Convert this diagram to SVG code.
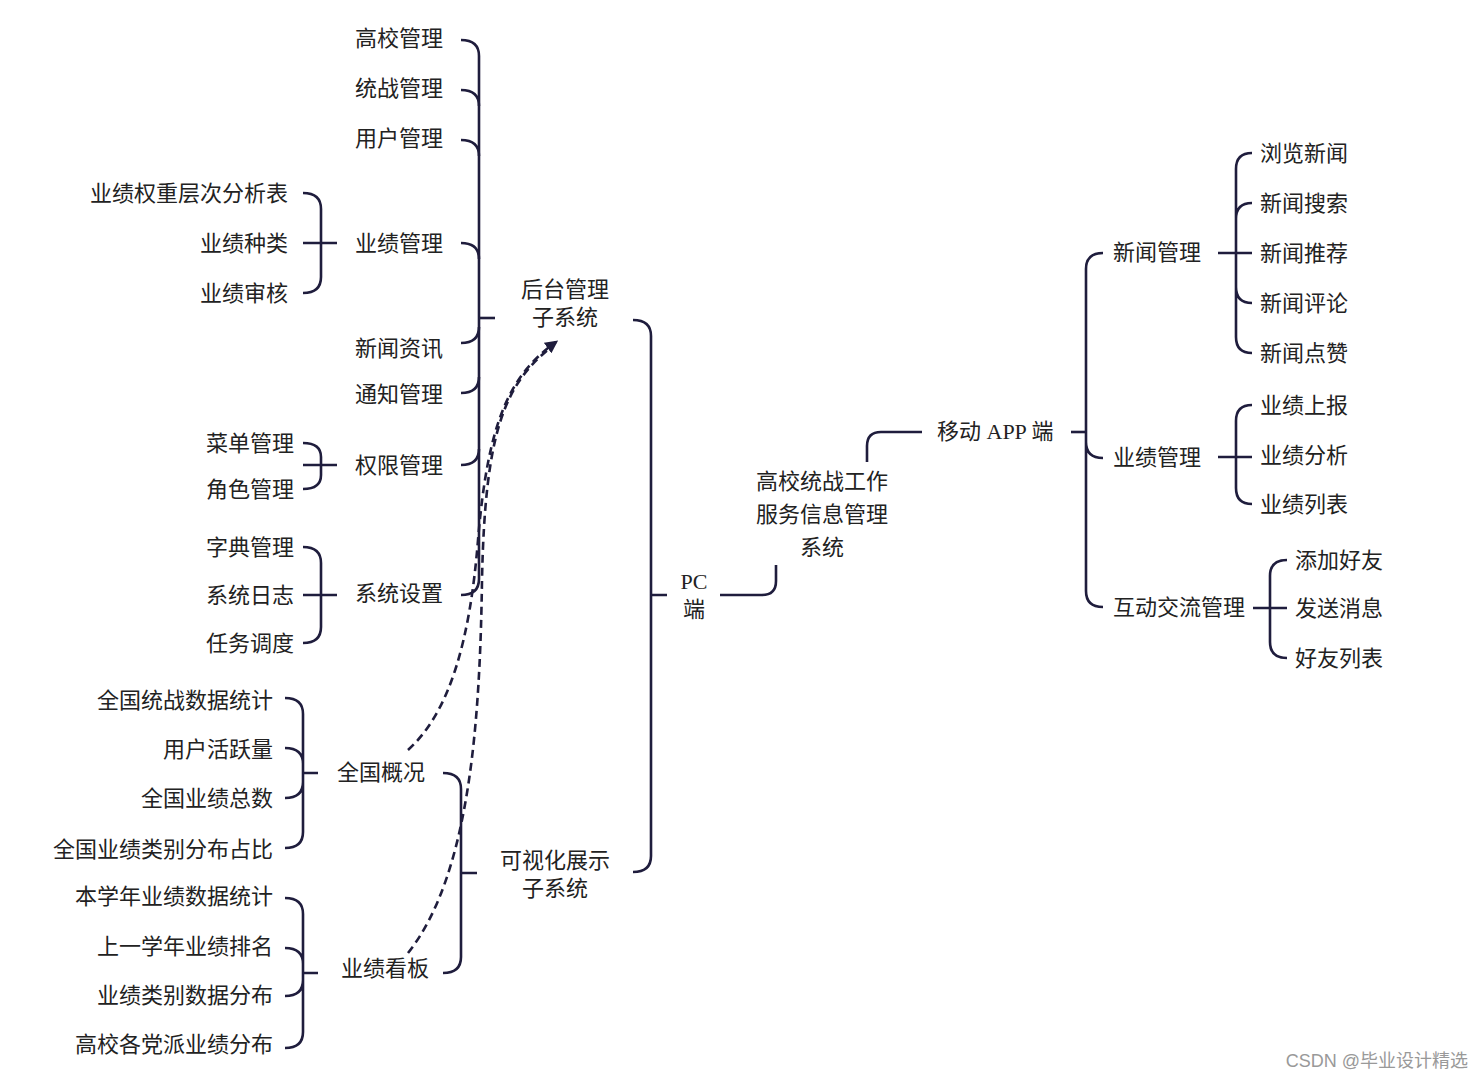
<svg xmlns="http://www.w3.org/2000/svg" width="1484" height="1080" viewBox="0 0 1484 1080">
<style>
text{font-family:"Liberation Serif","Noto Sans CJK SC",serif;font-size:22px;fill:#222;dominant-baseline:central}
.r{text-anchor:end}.m{text-anchor:middle}
.c path{fill:none;stroke:#1f1d3d;stroke-width:2.6}
.d{stroke-dasharray:8 5}
</style>
<defs><marker id="ah" viewBox="0 0 10 10" refX="8" refY="5" markerWidth="5" markerHeight="5" orient="auto"><path d="M0,0L10,5L0,10z" fill="#1f1d3d"/></marker></defs>
<rect width="1484" height="1080" fill="#fff"/>
<g class="c" id="connectors">
<path d="M461,40 Q479,40 479,56 L479,579 Q479,595 461,595"/>
<path d="M461,90 Q479,90 479,106"/><path d="M461,140 Q479,140 479,156"/><path d="M461,243 Q479,243 479,259"/>
<path d="M461,343 Q479,343 479,327"/><path d="M461,393 Q479,393 479,377"/><path d="M461,465 Q479,465 479,449"/>
<path d="M479,318 H495"/>
<path d="M303,193 Q321,193 321,209 L321,277 Q321,293 303,293 M303,243 H337"/>
<path d="M303,443 Q321,443 321,457 L321,475 Q321,489 303,489 M303,465 H337"/>
<path d="M303,547 Q321,547 321,563 L321,627 Q321,643 303,643 M303,595 H337"/>
<path d="M633,320 Q651,320 651,336 L651,856 Q651,872 633,872 M651,595 H667"/>
<path d="M720,595 H762 Q776,595 776,581 V565"/>
<path d="M867,462 V446 Q867,432 881,432 H922"/>
<path d="M1071,432 H1086"/>
<path d="M1103,253 Q1086,253 1086,269 L1086,591 Q1086,607 1103,607 M1086,442 Q1086,458 1103,458"/>
<path d="M1252,153 Q1236,153 1236,169 L1236,337 Q1236,353 1252,353 M1252,203 Q1236,203 1236,219 M1252,303 Q1236,303 1236,287 M1218,253 H1252"/>
<path d="M1252,405 Q1236,405 1236,421 L1236,488 Q1236,504 1252,504 M1218,457 H1252"/>
<path d="M1287,560 Q1270,560 1270,576 L1270,642 Q1270,658 1287,658 M1253,608 H1287"/>
<path d="M443,773 Q461,773 461,789 L461,957 Q461,973 443,973 M461,873 H477"/>
<path d="M285,698 Q303,698 303,714 L303,832 Q303,848 285,848 M285,748 Q303,748 303,764 M285,798 Q303,798 303,782 M303,773 H318"/>
<path d="M285,898 Q303,898 303,914 L303,1032 Q303,1048 285,1048 M285,948 Q303,948 303,964 M285,996 Q303,996 303,980 M303,973 H318"/>
<path class="d" d="M408,750 C450,712 470,640 478,540 C488,420 510,375 556,342" marker-end="url(#ah)"/>
<path class="d" d="M408,953 C470,875 480,720 482,580 C485,430 505,385 550,348"/>
</g>
<g id="n-top"><text class="r" x="443" y="38">高校管理</text></g>
<g id="n-tz"><text class="r" x="443" y="88">统战管理</text></g>
<g id="n-yh"><text class="r" x="443" y="138">用户管理</text></g>
<g id="n-yj"><text class="r" x="443" y="243">业绩管理</text></g>
<g id="n-xw"><text class="r" x="443" y="348">新闻资讯</text></g>
<g id="n-tzgl"><text class="r" x="443" y="394">通知管理</text></g>
<g id="n-qx"><text class="r" x="443" y="465">权限管理</text></g>
<g id="n-xt"><text class="r" x="443" y="593">系统设置</text></g>
<g id="n-yj1"><text class="r" x="288" y="193">业绩权重层次分析表</text></g>
<g id="n-yj2"><text class="r" x="288" y="243">业绩种类</text></g>
<g id="n-yj3"><text class="r" x="288" y="293">业绩审核</text></g>
<g id="n-qx1"><text class="r" x="294" y="443">菜单管理</text></g>
<g id="n-qx2"><text class="r" x="294" y="489">角色管理</text></g>
<g id="n-xt1"><text class="r" x="294" y="547">字典管理</text></g>
<g id="n-xt2"><text class="r" x="294" y="595">系统日志</text></g>
<g id="n-xt3"><text class="r" x="294" y="643">任务调度</text></g>
<g id="n-ht"><text class="m" x="565" y="289">后台管理</text><text class="m" x="565" y="317">子系统</text></g>
<g id="n-ks"><text class="m" x="555" y="860">可视化展示</text><text class="m" x="555" y="888">子系统</text></g>
<g id="n-qg"><text x="337" y="772">全国概况</text></g>
<g id="n-kb"><text x="341" y="968">业绩看板</text></g>
<g id="n-qg1"><text class="r" x="273" y="700">全国统战数据统计</text></g>
<g id="n-qg2"><text class="r" x="273" y="749">用户活跃量</text></g>
<g id="n-qg3"><text class="r" x="273" y="798">全国业绩总数</text></g>
<g id="n-qg4"><text class="r" x="273" y="849">全国业绩类别分布占比</text></g>
<g id="n-kb1"><text class="r" x="273" y="896">本学年业绩数据统计</text></g>
<g id="n-kb2"><text class="r" x="273" y="946">上一学年业绩排名</text></g>
<g id="n-kb3"><text class="r" x="273" y="995">业绩类别数据分布</text></g>
<g id="n-kb4"><text class="r" x="273" y="1044">高校各党派业绩分布</text></g>
<g id="n-pc"><text class="m" x="694" y="581">PC</text><text class="m" x="694" y="609">端</text></g>
<g id="n-root"><text class="m" x="822" y="481">高校统战工作</text><text class="m" x="822" y="514">服务信息管理</text><text class="m" x="822" y="547">系统</text></g>
<g id="n-app"><text x="937" y="431">移动 APP 端</text></g>
<g id="n-xwgl"><text x="1113" y="252">新闻管理</text></g>
<g id="n-yjgl"><text x="1113" y="457">业绩管理</text></g>
<g id="n-hd"><text x="1113" y="607">互动交流管理</text></g>
<g id="n-r1"><text x="1260" y="153">浏览新闻</text></g>
<g id="n-r2"><text x="1260" y="203">新闻搜索</text></g>
<g id="n-r3"><text x="1260" y="253">新闻推荐</text></g>
<g id="n-r4"><text x="1260" y="303">新闻评论</text></g>
<g id="n-r5"><text x="1260" y="353">新闻点赞</text></g>
<g id="n-r6"><text x="1260" y="405">业绩上报</text></g>
<g id="n-r7"><text x="1260" y="455">业绩分析</text></g>
<g id="n-r8"><text x="1260" y="504">业绩列表</text></g>
<g id="n-r9"><text x="1295" y="560">添加好友</text></g>
<g id="n-r10"><text x="1295" y="608">发送消息</text></g>
<g id="n-r11"><text x="1295" y="658">好友列表</text></g>
<text x="1468" y="1061" class="r" style="font-family:'Liberation Sans','Noto Sans CJK SC',sans-serif;font-size:18px;fill:#999">CSDN @毕业设计精选</text>
</svg>
